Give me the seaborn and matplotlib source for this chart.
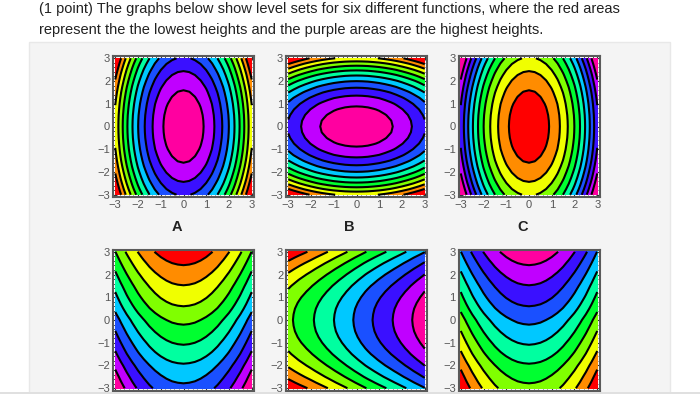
import numpy as np
import matplotlib
matplotlib.use('Agg')
import matplotlib.pyplot as plt
from matplotlib.patches import Rectangle
from matplotlib.ticker import MultipleLocator
import seaborn as sns

title_lines = ['(1 point) The graphs below show level sets for six different functions, where the red areas',
               'represent the the lowest heights and the purple areas are the highest heights.']
panel_names = ['A', 'B', 'C']
ticks = [-3, -2, -1, 0, 1, 2, 3]

# grid nodes shared by all panels
nodes = [-3, -2.75, -2.5, -2.25, -2, -1.75, -1.5, -1.25, -1, -0.75, -0.5, -0.25, 0,
         0.25, 0.5, 0.75, 1, 1.25, 1.5, 1.75, 2, 2.25, 2.5, 2.75, 3]

# height profiles, a panel is its x profile plus its y profile
hill_steep = [2.26, 3.62, 4.85, 5.97, 6.98, 7.86, 8.63, 9.28, 9.81, 10.22, 10.51, 10.69, 10.75,
              10.69, 10.51, 10.22, 9.81, 9.28, 8.63, 7.86, 6.98, 5.97, 4.85, 3.62, 2.26]
hill_flat = [-2.65, -2.22, -1.84, -1.49, -1.18, -0.9, -0.66, -0.46, -0.29, -0.17, -0.07, -0.02, 0,
             -0.02, -0.07, -0.17, -0.29, -0.46, -0.66, -0.9, -1.18, -1.49, -1.84, -2.22, -2.65]
c_x = [8.74, 7.38, 6.15, 5.03, 4.02, 3.14, 2.37, 1.72, 1.19, 0.78, 0.49, 0.31, 0.25,
       0.31, 0.49, 0.78, 1.19, 1.72, 2.37, 3.14, 4.02, 5.03, 6.15, 7.38, 8.74]
c_y = [2.65, 2.22, 1.84, 1.49, 1.18, 0.9, 0.66, 0.46, 0.29, 0.17, 0.07, 0.02, 0,
       0.02, 0.07, 0.17, 0.29, 0.46, 0.66, 0.9, 1.18, 1.49, 1.84, 2.22, 2.65]
bowl = [3.69, 3.1, 2.56, 2.08, 1.64, 1.26, 0.92, 0.64, 0.41, 0.23, 0.1, 0.03, 0,
        0.03, 0.1, 0.23, 0.41, 0.64, 0.92, 1.26, 1.64, 2.08, 2.56, 3.1, 3.69]
cap = [-3.69, -3.1, -2.56, -2.08, -1.64, -1.26, -0.92, -0.64, -0.41, -0.23, -0.1, -0.03, 0,
       -0.03, -0.1, -0.23, -0.41, -0.64, -0.92, -1.26, -1.64, -2.08, -2.56, -3.1, -3.69]
d_y = [7.25, 6.96, 6.68, 6.39, 6.1, 5.78, 5.47, 5.18, 4.9, 4.61, 4.33, 4.05, 3.77,
       3.44, 3.12, 2.83, 2.55, 2.29, 2.03, 1.75, 1.47, 1.18, 0.9, 0.61, 0.33]
e_x = [3.77, 4.05, 4.33, 4.59, 4.86, 5.14, 5.42, 5.7, 5.99, 6.28, 6.57, 6.87, 7.17,
       7.47, 7.77, 8.05, 8.34, 8.62, 8.9, 9.18, 9.47, 9.76, 10.06, 10.35, 10.65]
f_y = [3.75, 4.04, 4.32, 4.61, 4.9, 5.22, 5.53, 5.82, 6.1, 6.39, 6.67, 6.95, 7.23,
       7.56, 7.88, 8.17, 8.45, 8.71, 8.97, 9.25, 9.53, 9.82, 10.1, 10.39, 10.67]

band_colors = ['#ff0000', '#ff8c00', '#f0ff00', '#80ff00', '#00ff30', '#00ffa0',
               '#00c8ff', '#1a50ff', '#3a10ff', '#c000ff', '#ff00a0']
contour_levels = [1, 2, 3, 4, 5, 6, 7, 8, 9, 10]
fill_levels = [-9, 1, 2, 3, 4, 5, 6, 7, 8, 9, 10, 20]

sns.set_theme(style='white')
plt.rcParams['font.family'] = ['Liberation Sans', 'DejaVu Sans']

W, H = 700, 394
fig = plt.figure(figsize=(W / 100, H / 100), dpi=100, facecolor='white')

# grey page behind the graphs
fig.patches.append(Rectangle((29 / W, 0), 641 / W, (H - 42) / H, transform=fig.transFigure,
                             facecolor='#f4f4f4', edgecolor='#e8e8e8', lw=1, zorder=-5))

for i, line in enumerate(title_lines):
    fig.text(39 / W, 1 - (13 + i * 21) / H, line, fontsize=10.57, color='#222222', va='baseline', ha='left')


def panel(left, top, xprof, yprof, show_x):
    ax = fig.add_axes([left / W, 1 - (top + 141) / H, 141 / W, 141 / H])
    ax.set_facecolor('white')
    z = np.add.outer(np.array(yprof), np.array(xprof))
    ax.contourf(nodes, nodes, z, levels=fill_levels, colors=band_colors)
    ax.contour(nodes, nodes, z, levels=contour_levels, colors='black', linewidths=1.5)
    ax.set_xlim(-3.1, 3.1)
    ax.set_ylim(-3.1, 3.1)
    ax.set_xticks(ticks)
    ax.set_yticks(ticks)
    ax.xaxis.set_minor_locator(MultipleLocator(0.2))
    ax.yaxis.set_minor_locator(MultipleLocator(0.2))
    ax.tick_params(which='major', direction='in', length=3, width=0.8, color='#333333', top=True, right=True,
                   labelsize=8, labelcolor='#555555', pad=2, bottom=True, left=True)
    ax.tick_params(which='minor', direction='in', length=1.5, width=0.6, color='#333333', top=True, right=True,
                   bottom=True, left=True)
    ax.set_xticklabels([str(t).replace('-', '\u2212') for t in ticks] if show_x else [])
    ax.set_yticklabels([str(t).replace('-', '\u2212') for t in ticks])
    for s in ax.spines.values():
        s.set_color('#5a5a5a')
        s.set_linewidth(1.5)
    return ax


panel(113, 56, hill_steep, hill_flat, True)
panel(286, 56, hill_flat, hill_steep, True)
panel(458.5, 56, c_x, c_y, True)
panel(113, 249.5, bowl, d_y, False)
panel(286, 249.5, e_x, cap, False)
panel(458.5, 249.5, cap, f_y, False)

for name, cx in zip(panel_names, [177, 349.5, 523]):
    fig.text(cx / W, 1 - 227 / H, name, fontsize=10.5, fontweight='bold', color='#222222', ha='center', va='center')

# strip along the bottom edge of the screenshot
fig.patches.append(Rectangle((0, 0), 1, 2.5 / H, transform=fig.transFigure, facecolor='#e0e0e0',
                             edgecolor='none', zorder=10))

fig.savefig('out.png', dpi=100)
